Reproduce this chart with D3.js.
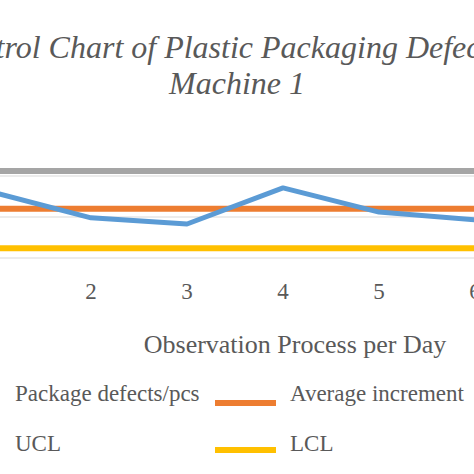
<!DOCTYPE html><html><head><script src="https://cdn.jsdelivr.net/npm/d3@7"></script>
<style>body{margin:0;background:#fff;overflow:hidden}svg{display:block}</style></head><body><svg width="474" height="474"></svg>
<script>
const categories=[1,2,3,4,5,6,7];
const defects=[0.0159,0.0098,0.0083,0.0171,0.0112,0.0093,0.0100];
const average=0.0120, ucl=0.0212, lcl=0.0024;
const yTicks=[0,0.01,0.02];
const svg=d3.select("svg"), F="Liberation Serif, Times New Roman, serif";
const x=d3.scaleLinear().domain([1,6]).range([-5,475]);
const y=d3.scaleLinear().domain([0,0.02]).range([258,176]);
svg.selectAll(".g").data(yTicks).join("line").attr("x1",0).attr("x2",474)
 .attr("y1",d=>y(d)).attr("y2",d=>y(d)).attr("stroke","#d9d9d9").attr("stroke-width",1.2);
const hl=(v,c)=>svg.append("line").attr("x1",0).attr("x2",474).attr("y1",y(v)).attr("y2",y(v)).attr("stroke",c).attr("stroke-width",6);
hl(ucl,"#a5a5a5");hl(lcl,"#ffc000");hl(average,"#ed7d31");
svg.append("path").datum(categories.map((c,i)=>[c,defects[i]]))
 .attr("d",d3.line().x(d=>x(d[0])).y(d=>y(d[1]))).attr("fill","none").attr("stroke","#5b9bd5").attr("stroke-width",5).attr("stroke-linejoin","round");
svg.selectAll(".t").data(categories).join("text").attr("x",d=>x(d)).attr("y",299)
 .attr("text-anchor","middle").attr("font-family",F).attr("font-size",23).attr("fill","#595959").text(d=>d);
const tx=(s,X,Y,sz,o={})=>svg.append("text").attr("x",X).attr("y",Y).attr("font-family",F).attr("font-size",sz)
 .attr("fill","#595959").attr("text-anchor",o.a||"start").attr("font-style",o.i?"italic":"normal").text(s);
tx("Control Chart of Plastic Packaging Defects",222,58,32,{a:"middle",i:1});
tx("Machine 1",237,94,32,{a:"middle",i:1});
tx("Observation Process per Day",295,353,26,{a:"middle"});
tx("Package defects/pcs",15,401,23);
svg.append("line").attr("x1",215).attr("x2",276).attr("y1",403).attr("y2",403).attr("stroke","#ed7d31").attr("stroke-width",6);
tx("Average increment",290,401,23);
tx("UCL",15,451,23);
svg.append("line").attr("x1",215).attr("x2",276).attr("y1",450).attr("y2",450).attr("stroke","#ffc000").attr("stroke-width",6);
tx("LCL",290,451,23);
</script></body></html>
